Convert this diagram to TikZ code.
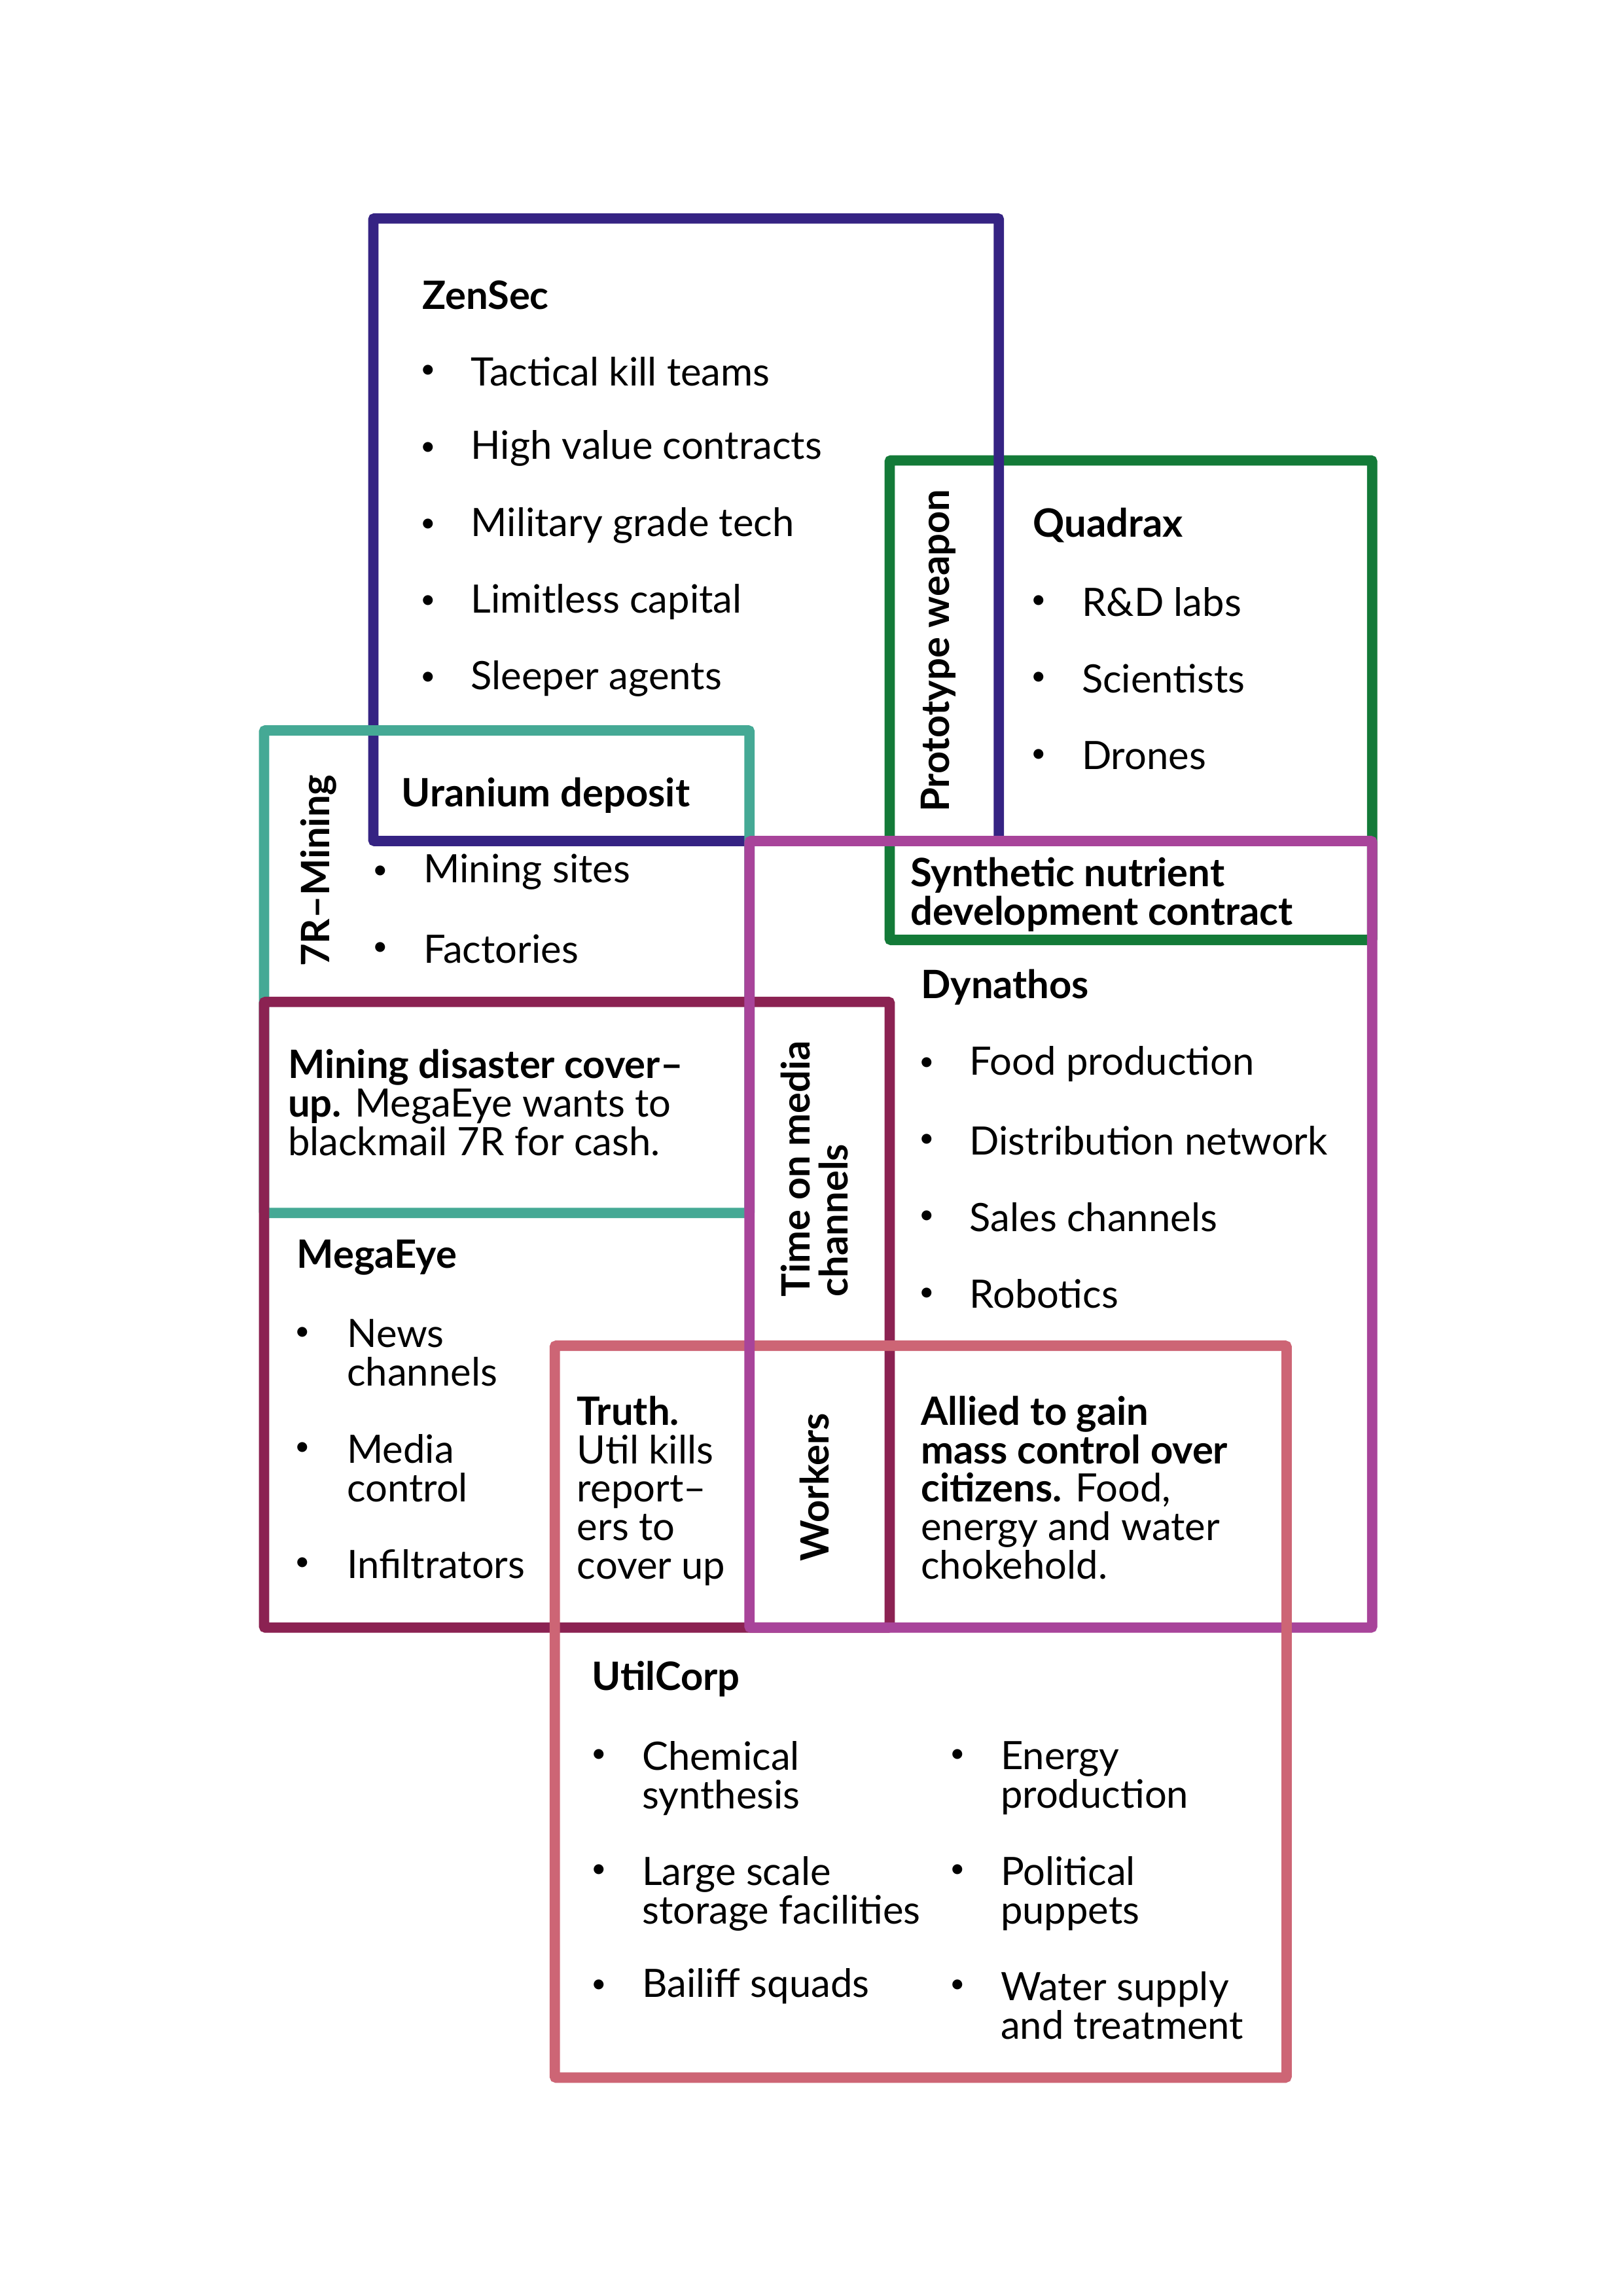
\documentclass[tikz,border=0pt]{standalone}
\usepackage{fontspec}
\setmainfont{Lato}
\definecolor{navy}{HTML}{352383}
\definecolor{tealc}{HTML}{45A995}
\definecolor{greenc}{HTML}{137A38}
\definecolor{purp}{HTML}{A8449A}
\definecolor{maroon}{HTML}{8B2252}
\definecolor{pinkc}{HTML}{CD6575}
\begin{document}
\begin{tikzpicture}[x=1pt,y=-1pt,
  frame/.style={line width=7pt,rounded corners=1pt},
  txt/.style={inner sep=0pt,anchor=west,font=\fontsize{26.5}{26}\selectfont},
  ttl/.style={txt,font=\fontsize{26.5}{26}\selectfont\bfseries},
  multi/.style={inner sep=0pt,anchor=north west,align=left,font=\fontsize{26.5}{26}\selectfont},
  rot/.style={inner sep=0pt,rotate=90,align=left,font=\fontsize{26.5}{26}\selectfont\bfseries},
  bul/.style={inner sep=0pt,font=\fontsize{18}{26}\selectfont}]
\useasboundingbox (0,0) rectangle (1100,1556);
\fill[white] (0,0) rectangle (1100,1556);
% frames
\draw[frame,greenc] (603,312) rectangle (930,637);
\draw[frame,navy] (253,148) rectangle (677,570);
\draw[frame,tealc] (179,495) rectangle (508,822);
\draw[frame,maroon] (179,679) rectangle (603,1103);
\draw[frame,pinkc] (376,912) rectangle (872,1408);
\draw[frame,purp] (508,570) rectangle (930,1103);
\draw[line width=7pt,pinkc] (872,1095) -- (872,1110);
% ZenSec
\node[ttl] (zt) at (286,200) {ZenSec};
\foreach \y/\t [count=\i] in {252/Tactical kill teams,304/High value contracts,356/Military grade tech,408/Limitless capital,460/Sleeper agents}{
  \node[bul] (zb\i) at (290,\y) {•}; \node[txt] (zi\i) at (319,\y) {\t};}
% Quadrax
\node[ttl] (qt) at (700,356) {Quadrax};
\foreach \y/\t [count=\i] in {408/R\&D labs,460/Scientists,512/Drones}{
  \node[bul] (qb\i) at (704,\y) {•}; \node[txt] (qi\i) at (733,\y) {\t};}
\node[rot] (pw) at (636,441) {Prototype weapon};
% 7R
\node[rot] (sr) at (216,590) {7R–Mining};
\node[ttl] (ud) at (272,539) {Uranium deposit};
\node[bul] (mb1) at (258,591) {•}; \node[txt] (mi1) at (287,591) {Mining sites};
\node[bul] (mb2) at (258,643) {•}; \node[txt] (mi2) at (287,643) {Factories};
% Synthetic
\node[multi,font=\fontsize{26.5}{26}\selectfont\bfseries] (sn) at (617,581) {Synthetic nutrient\\development contract};
% Dynathos
\node[ttl] (dt) at (624,669) {Dynathos};
\foreach \y/\t [count=\i] in {721/Food production,773/Distribution network,825/Sales channels,877/Robotics}{
  \node[bul] (db\i) at (628,\y) {•}; \node[txt] (di\i) at (657,\y) {\t};}
% Mining disaster
\node[multi] (md) at (195,711) {\textbf{Mining disaster cover–}\\\textbf{up.} MegaEye wants to\\blackmail 7R for cash.};
\node[rot] (tm) at (552,792) {Time on media\\channels};
% MegaEye
\node[ttl] (mt) at (201,852) {MegaEye};
\node[bul] (eb1) at (205,904) {•}; \node[multi] (ei1) at (235,894) {News\\channels};
\node[bul] (eb2) at (205,982) {•}; \node[multi] (ei2) at (235,972) {Media\\control};
\node[bul] (eb3) at (205,1060) {•}; \node[txt] (ei3) at (235,1060) {Infiltrators};
% Truth
\node[multi] (tr) at (391,946) {\textbf{Truth.}\\Util kills\\report–\\ers to\\cover up};
\node[rot] (wk) at (552,1008) {Workers};
\node[multi] (al) at (624,946) {\textbf{Allied to gain}\\\textbf{mass control over}\\\textbf{citizens.} Food,\\energy and water\\chokehold.};
% UtilCorp
\node[ttl] (ut) at (401,1138) {UtilCorp};
\node[bul] (ub1) at (406,1190) {•}; \node[multi] (ui1) at (435,1180) {Chemical\\synthesis};
\node[bul] (ub2) at (406,1268) {•}; \node[multi] (ui2) at (435,1258) {Large scale\\storage facilities};
\node[bul] (ub3) at (406,1346) {•}; \node[txt] (ui3) at (435,1346) {Bailiff squads};
\node[bul] (ub4) at (649,1190) {•}; \node[multi] (ui4) at (678,1180) {Energy\\production};
\node[bul] (ub5) at (649,1268) {•}; \node[multi] (ui5) at (678,1258) {Political\\puppets};
\node[bul] (ub6) at (649,1346) {•}; \node[multi] (ui6) at (678,1336) {Water supply\\and treatment};
\end{tikzpicture}
\end{document}
